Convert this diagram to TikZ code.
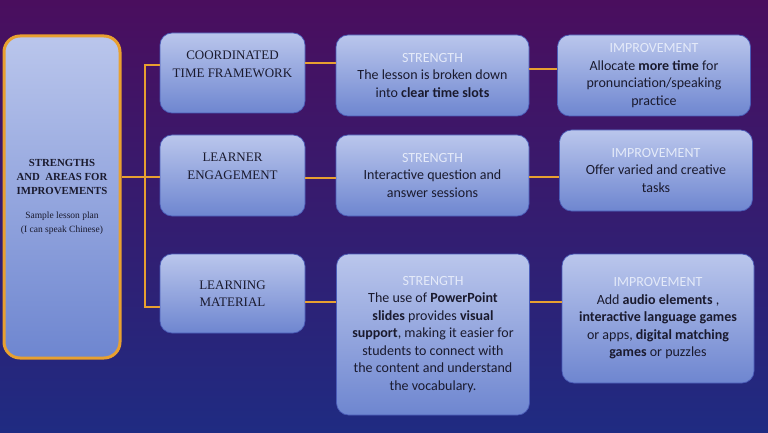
\documentclass[tikz,border=0pt]{standalone}
\usepackage{fontspec}
\setmainfont{Carlito}
\newfontfamily\slabfont{Liberation Serif}
\usetikzlibrary{positioning}
\definecolor{bgtop}{HTML}{4A0E5E}
\definecolor{bgmid}{HTML}{37197A}
\definecolor{bgbot}{HTML}{1F2B82}
\definecolor{boxtop}{HTML}{BAC6EC}
\definecolor{boxbot}{HTML}{6E86D0}
\definecolor{boxline}{HTML}{4A5CB8}
\definecolor{linkorange}{HTML}{E8A030}
\definecolor{headtext}{HTML}{E4EAF9}
\definecolor{bodytext}{HTML}{1A1A2E}
\newcommand\samplesize{\fontsize{9.5}{14}\selectfont}
\newcommand\headline[1]{{\color{headtext}#1}}

\begin{document}
\begin{tikzpicture}[
        x=1pt, y=-1pt,
        box/.style={rectangle, draw=boxline, line width=0.7pt, rounded corners=12pt, top color=boxtop, bottom color=boxbot, inner sep=0pt},
        catbox/.style={box, minimum width=145, minimum height=80},
        infobox/.style={box, minimum width=193, align=center, text=bodytext, font=\fontsize{14}{17.5}\selectfont},
        cattext/.style={align=center, text=bodytext, font=\slabfont\fontsize{13}{17.5}\selectfont},
        mainbox/.style={rectangle, draw=linkorange, line width=3pt, rounded corners=16pt, top color=boxtop, bottom color=boxbot, minimum width=116, minimum height=322, align=center, text=bodytext, font=\slabfont\fontsize{10.8}{14}\selectfont},
        link/.style={draw=linkorange, line width=2.6pt}
    ]
%
    % Background
    \fill[top color=bgtop, middle color=bgmid, bottom color=bgbot] (0,0) rectangle (768,433);
    \useasboundingbox (0,0) rectangle (768,433);
%
    % Nodes
    \node[mainbox] (main) at (62,197) {\bfseries STRENGTHS\\\bfseries AND\ \ AREAS FOR\\\bfseries IMPROVEMENTS\\[10pt]{\samplesize Sample lesson plan}\\{\samplesize (I can speak Chinese)}};
%
    \node[catbox] (cat1) at (232.5,73) {};
    \node[cattext] (cat1t) at ([yshift=8.5]cat1.center) {COORDINATED\\TIME FRAMEWORK};
    \node[infobox, minimum height=81] (str1) at (432.5,75.5) {\headline{STRENGTH}\\The lesson is broken down\\into \textbf{clear time slots}};
    \node[infobox, minimum height=81] (imp1) at (654,75.5) {\headline{IMPROVEMENT}\\Allocate \textbf{more time} for\\pronunciation/speaking\\practice};
%
    \node[catbox, minimum height=81] (cat2) at (232.5,175.5) {};
    \node[cattext] (cat2t) at ([yshift=9]cat2.center) {LEARNER\\ENGAGEMENT};
    \node[infobox, minimum height=81] (str2) at (432.5,175.5) {\headline{STRENGTH}\\Interactive question and\\answer sessions};
    \node[infobox, minimum height=81] (imp2) at (656,170.5) {\headline{IMPROVEMENT}\\Offer varied and creative\\tasks};
%
    \node[catbox, minimum height=79] (cat3) at (232.5,293.5) {};
    \node[cattext] (cat3t) at (cat3.center) {LEARNING\\MATERIAL};
    \node[infobox, minimum height=161] (str3) at (433,334.5) {\headline{STRENGTH}\\The use of \textbf{PowerPoint}\\\textbf{slides} provides \textbf{visual}\\\textbf{support}, making it easier for\\students to connect with\\the content and understand\\the vocabulary.};
    \node[infobox, minimum width=192, minimum height=129] (imp3) at (658,318.5) {\headline{IMPROVEMENT}\\Add \textbf{audio elements} ,\\\textbf{interactive language games}\\or apps, \textbf{digital matching}\\\textbf{games} or puzzles};
%
    % Connectors
    \coordinate (fork) at (145,177);
    \draw[link] (main.east |- fork) -- (fork);
    \draw[link] (cat1.west |- 0,65) -| (fork) |- (cat3.west |- 0,307);
    \draw[link] (fork) -- (cat2.west |- fork);
%
    \draw[link] (cat1.east |- 0,63) -- (str1.west |- 0,63);
    \draw[link] (cat2.east |- 0,178) -- (str2.west |- 0,178);
    \draw[link] (cat3.east |- 0,302) -- (str3.west |- 0,302);
%
    \draw[link] (str1.east |- 0,69) -- (imp1.west |- 0,69);
    \draw[link] (str2.east |- 0,177) -- (imp2.west |- 0,177);
    \draw[link] (str3.east |- 0,302) -- (imp3.west |- 0,302);
%
\end{tikzpicture}
\end{document}
